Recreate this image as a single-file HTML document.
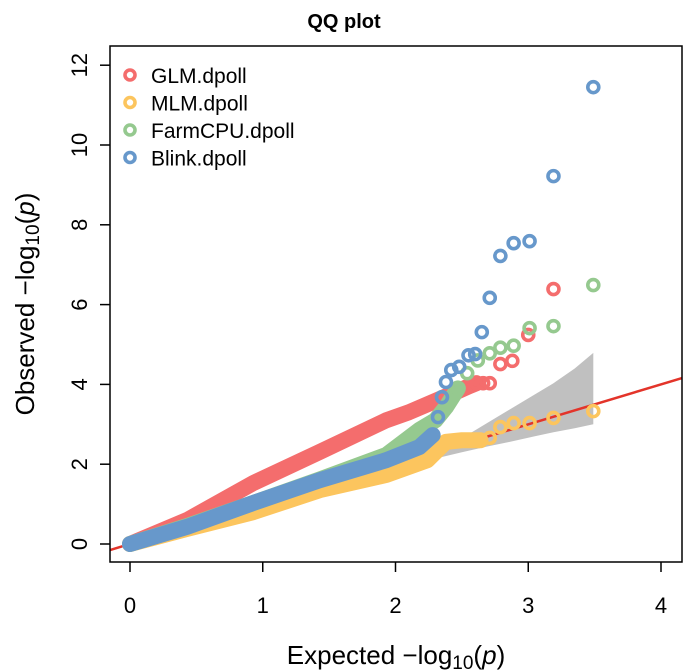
<!DOCTYPE html>
<html><head><meta charset="utf-8"><style>
html,body{margin:0;padding:0;background:#fff;}
svg{display:block;font-family:"Liberation Sans",Arial,sans-serif;}
</style></head><body>
<svg id="chart" width="685" height="672" viewBox="0 0 685 672" xmlns="http://www.w3.org/2000/svg">
<text x="344" y="28" text-anchor="middle" font-size="20" font-weight="bold">QQ plot</text>
<g id="ci"></g>
<g id="refline"></g>
<g id="series"></g>
<rect x="110" y="46" width="572" height="516" fill="none" stroke="#000" stroke-width="1.5"/>
<g id="xaxis"></g>
<g id="yaxis"></g>
<text x="396" y="664" text-anchor="middle" font-size="26">Expected  −log<tspan font-size="19" dy="5">10</tspan><tspan dy="-5">(</tspan><tspan font-style="italic">p</tspan>)</text>
<text transform="translate(34,304) rotate(-90)" text-anchor="middle" font-size="26">Observed  −log<tspan font-size="19" dy="5">10</tspan><tspan dy="-5">(</tspan><tspan font-style="italic">p</tspan>)</text>
<g id="legend"></g>
</svg>
<script>
const seriesNames = ["GLM.dpoll","MLM.dpoll","FarmCPU.dpoll","Blink.dpoll"];
const seriesColors = ["#f46d6d","#fcc55e","#95c98f","#6798cb"];
// dense band (expected, observed)
const glmBandX = [0,0.43,0.93,1.43,1.93,2.1,2.31,2.45,2.55,2.61];
const glmBandY = [0,0.6,1.53,2.31,3.1,3.3,3.6,3.8,3.95,4.03];
const mlmBandX = [0,0.43,0.93,1.43,1.93,2.24,2.38,2.5,2.64];
const mlmBandY = [0,0.38,0.8,1.35,1.73,2.1,2.56,2.6,2.6];
const farmBandX = [0,0.43,0.93,1.43,1.93,2.18,2.3,2.38,2.47];
const farmBandY = [0,0.45,1.03,1.62,2.23,2.86,3.1,3.43,3.9];
const blinkBandX = [0,0.43,0.93,1.43,1.93,2.18,2.28];
const blinkBandY = [0,0.43,1.03,1.6,2.1,2.43,2.73];
// tail points
const glmTailX = [2.61,2.66,2.71,2.79,2.88,3.0,3.19];
const glmTailY = [4.03,4.03,4.03,4.51,4.59,5.24,6.39];
const mlmTailX = [2.64,2.71,2.79,2.89,3.01,3.19,3.49];
const mlmTailY = [2.6,2.66,2.93,3.03,3.03,3.16,3.33];
const farmTailX = [2.47,2.54,2.62,2.71,2.79,2.89,3.01,3.19,3.49];
const farmTailY = [3.9,4.28,4.6,4.78,4.92,4.97,5.41,5.46,6.49];
const blinkTailX = [2.32,2.35,2.38,2.42,2.48,2.55,2.6,2.65,2.71,2.79,2.89,3.01,3.19,3.49];
const blinkTailY = [3.18,3.68,4.06,4.36,4.44,4.73,4.76,5.31,6.17,7.22,7.54,7.59,9.22,11.45];
// confidence band
const ciX = [2.31,2.5,2.7,2.89,3.05,3.19,3.35,3.49];
const ciUpper = [2.3,2.65,3.05,3.43,3.75,4.03,4.4,4.79];
const ciLower = [2.15,2.3,2.45,2.58,2.7,2.8,2.9,3.0];
const xTicks = [0,1,2,3,4];
const yTicks = [0,2,4,6,8,10,12];

const NS="http://www.w3.org/2000/svg";
const X=v=>130+v*132.75, Y=v=>544-v*39.9;
function mk(tag,attrs,parent){const e=document.createElementNS(NS,tag);for(const k in attrs)e.setAttribute(k,attrs[k]);parent.appendChild(e);return e;}

{const g=document.getElementById('ci');
 let pts=ciX.map((x,i)=>X(x)+','+Y(ciUpper[i]));
 for(let i=ciX.length-1;i>=0;i--)pts.push(X(ciX[i])+','+Y(ciLower[i]));
 const p=mk('polygon',{points:pts.join(' '),fill:'#c0c0c0'},g);
 
 }
{const g=document.getElementById('refline');
 const l=mk('line',{x1:110,y1:Y((110-130)/132.75),x2:682,y2:Y((682-130)/132.75),stroke:'#e3342a','stroke-width':2.5},g);
 
 }
const bands=[[glmBandX,glmBandY],[mlmBandX,mlmBandY],[farmBandX,farmBandY],[blinkBandX,blinkBandY]];
const tails=[[glmTailX,glmTailY],[mlmTailX,mlmTailY],[farmTailX,farmTailY],[blinkTailX,blinkTailY]];
const order=[0,1,2,3];
const sg=document.getElementById('series');
order.forEach(i=>{
 const g=mk('g',{},sg);
 
 
 const [bx,by]=bands[i];
 const pl=mk('polyline',{points:bx.map((x,j)=>X(x)+','+Y(by[j])).join(' '),fill:'none',stroke:seriesColors[i],'stroke-width':16,'stroke-linecap':'round','stroke-linejoin':'round'},g);
 
 
 const [tx,ty]=tails[i];
 tx.forEach((x,j)=>{
  const c=mk('circle',{cx:X(x),cy:Y(ty[j]),r:5.5,fill:'none',stroke:seriesColors[i],'stroke-width':3.6},g);
  
  
 });
});
{const g=document.getElementById('xaxis');
 xTicks.forEach(t=>{
  const l=mk('line',{x1:X(t),x2:X(t),y1:562,y2:572,stroke:'#000','stroke-width':1.5},g);
  
  
  const tx=mk('text',{x:X(t),y:613,'text-anchor':'middle','font-size':22},g);
  tx.textContent=t;
  
  
 });}
{const g=document.getElementById('yaxis');
 yTicks.forEach(t=>{
  const l=mk('line',{x1:100,x2:110,y1:Y(t),y2:Y(t),stroke:'#000','stroke-width':1.5},g);
  
  
  const tx=mk('text',{transform:`translate(87,${Y(t)}) rotate(-90)`,'text-anchor':'middle','font-size':22},g);
  tx.textContent=t;
  
  
 });}
{const g=document.getElementById('legend');
 seriesNames.forEach((n,i)=>{
  const y=75+i*27.5;
  const c=mk('circle',{cx:130,cy:y,r:5,fill:'none',stroke:seriesColors[i],'stroke-width':3.6},g);
  
  
  const t=mk('text',{x:151,y:y+8,'font-size':21},g);
  t.textContent=n;
  
  
 });}
</script>
</body></html>
